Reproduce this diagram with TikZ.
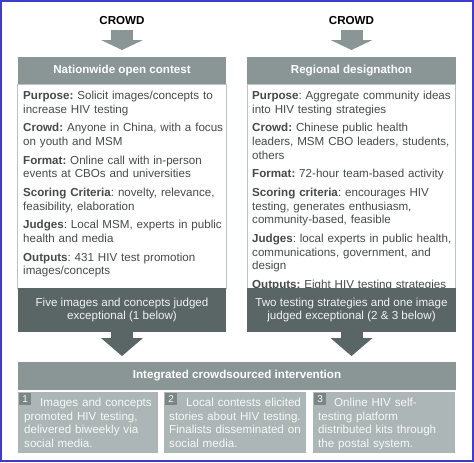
\documentclass[tikz,border=0pt]{standalone}
\usepackage{fontspec}
\setmainfont{Liberation Sans}
\usetikzlibrary{
  arrows.meta,
  positioning,  % Function "of" (e.g. [below=of x])
}
\frenchspacing
\definecolor{hdgrey}{HTML}{8A9696}
\definecolor{dkgrey}{HTML}{5A6566}
\definecolor{ltgrey}{HTML}{ADB6B6}
\definecolor{nrgrey}{HTML}{7A8686}
\definecolor{bdgrey}{HTML}{BCC3C3}
\definecolor{txgrey}{HTML}{454A4A}
\definecolor{frblue}{HTML}{3C3CCF}
\newcommand{\myfont}{\fontsize{11.6}{13.7}\selectfont}
\newcommand{\fld}[1]{\textbf{#1}}
\def\colwd{208.5pt}
\def\pskip{4.9pt}
\tikzset{
  my crowd/.style={
    font=\myfont\bfseries,
    inner sep=0pt,
    anchor=base
  },
  my head/.style={
    fill=hdgrey,
    text=white,
    font=\myfont\bfseries,
    minimum width=\colwd,
    minimum height=27pt,
    inner sep=0pt,
    outer sep=0pt
  },
  my body/.style={
    draw=bdgrey,
    line width=0.6pt,
    fill=white,
    minimum width=\colwd,
    minimum height=204pt,
    inner sep=0pt,
    outer sep=0pt
  },
  my text/.style={
    font=\myfont,
    text=txgrey,
    align=left,
    text width=205pt,
    inner sep=0pt,
    anchor=base west
  },
  my result/.style={
    fill=dkgrey,
    text=white!92!dkgrey,
    font=\myfont,
    align=center,
    minimum width=\colwd,
    minimum height=44pt,
    inner sep=0pt,
    outer sep=0pt
  },
  my item/.style={
    fill=ltgrey,
    minimum height=61pt,
    inner sep=0pt,
    anchor=north west
  },
  my num/.style={
    fill=nrgrey,
    text=white!95!nrgrey,
    font=\fontsize{10}{12}\selectfont,
    minimum size=12pt,
    inner sep=0pt,
    anchor=north west
  },
  my item text/.style={
    font=\myfont,
    text=white!90!ltgrey,
    align=left,
    text width=136pt,
    inner sep=0pt,
    anchor=base west
  },
  % Thick grey block arrows
  block arrow/.style={
    line width=22pt,
    -{Triangle[width=42pt,length=10pt,line width=0pt 0 0]}
  },
  block arrow long/.style={
    line width=22pt,
    -{Triangle[width=42pt,length=18pt,line width=0pt 0 0]}
  }
}

\begin{document}
\begin{tikzpicture}[x=1pt,y=-1pt]
\useasboundingbox (0,0) rectangle (474,463);
\draw[frblue,line width=2pt] (1.2,1.2) rectangle (472.8,461.3);

% Two columns
\node[my crowd] (crowdL) at (122,24.2)   {CROWD};
\node[my crowd] (crowdR) at (351.5,24.2) {CROWD};
\node[my head] (headL) at (122,70.5)   {Nationwide open contest};
\node[my head] (headR) at (351.5,70.5) {Regional designathon};
\node[my body] (bodyL) [below=0pt of headL] {};
\node[my body] (bodyR) [below=0pt of headR] {};

\node[my text] (textL) at (23,99.5) {%
  \fld{Purpose:} Solicit images/concepts to\\increase HIV testing\\[\pskip]
  \fld{Crowd:} Anyone in China, with a focus\\on youth and MSM\\[\pskip]
  \fld{Format:} Online call with in-person\\events at CBOs and universities\\[\pskip]
  \fld{Scoring Criteria}: novelty, relevance,\\feasibility, elaboration\\[\pskip]
  \fld{Judges}: Local MSM, experts in public\\health and media\\[\pskip]
  \fld{Outputs}: 431 HIV test promotion\\images/concepts};
\node[my text] (textR) at (252,99.5) {%
  \fld{Purpose}: Aggregate community ideas\\into HIV testing strategies\\[\pskip]
  \fld{Crowd:} Chinese public health\\leaders, MSM CBO leaders, students,\\others\\[\pskip]
  \fld{Format:} 72-hour team-based activity\\[\pskip]
  \fld{Scoring criteria}: encourages HIV\\testing, generates enthusiasm,\\community-based, feasible\\[\pskip]
  \fld{Judges}: local experts in public health,\\communications, government, and\\design\\[\pskip]
  \fld{Outputs:} Eight HIV testing strategies};

\node[my result] (outL) [below=0pt of bodyL]
  {Five images and concepts judged\\exceptional (1 below)};
\node[my result] (outR) [below=0pt of bodyR]
  {Two testing strategies and one image\\judged exceptional (2 \& 3 below)};

% Intervention
\node[my head,minimum width=438pt,minimum height=28pt] (inter) at (237,376)
  {Integrated crowdsourced intervention};
\node[my item,minimum width=140pt] (item1) at (18,392)  {};
\node[my item,minimum width=142pt] (item2) at (164,392) {};
\node[my item,minimum width=142pt] (item3) at (313,392) {};
\node[my num] (num1) at ([shift={(1,1)}]item1.north west) {1};
\node[my num] (num2) at ([shift={(1,1)}]item2.north west) {2};
\node[my num] (num3) at ([shift={(1,1)}]item3.north west) {3};
\node[my item text] (desc1) at ([shift={(6,14.5)}]item1.north west)
  {\hspace*{16pt}Images and concepts\\promoted HIV testing,\\delivered biweekly via\\social media.};
\node[my item text] (desc2) at ([shift={(5,14.5)}]item2.north west)
  {\hspace*{17pt}Local contests elicited\\stories about HIV testing.\\Finalists disseminated on\\social media.};
\node[my item text] (desc3) at ([shift={(5,14.5)}]item3.north west)
  {\hspace*{16pt}Online HIV self-\\testing platform\\distributed kits through\\the postal system.};

% Arrows
\draw[block arrow,hdgrey,shorten <=5.8pt,shorten >=7pt] (crowdL.south) -- (headL.north);
\draw[block arrow,hdgrey,shorten <=5.8pt,shorten >=7pt] (crowdR.south) -- (headR.north);
\draw[block arrow long,dkgrey,shorten >=6pt] (outL.south) -- (outL.south |- inter.north);
\draw[block arrow long,dkgrey,shorten >=6pt] (outR.south) -- (outR.south |- inter.north);
\end{tikzpicture}
\end{document}
